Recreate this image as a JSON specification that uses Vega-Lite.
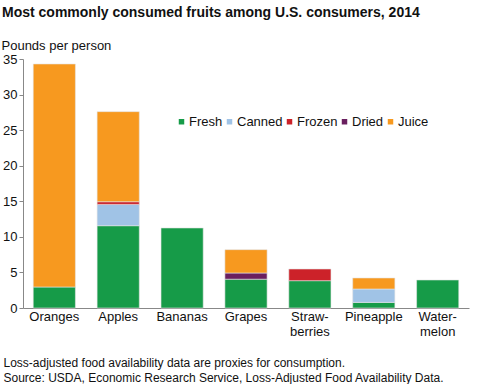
{
  "$schema": "https://vega.github.io/schema/vega-lite/v6.json",
  "width": 446,
  "height": 249,
  "autosize": {"type": "none"},
  "padding": {"left": 23, "top": 59, "right": 11, "bottom": 76},
  "background": "white",
  "config": {
    "font": "Liberation Sans",
    "view": {"stroke": null}
  },
  "title": {
    "text": "Most commonly consumed fruits among U.S. consumers, 2014",
    "anchor": "start",
    "frame": "group",
    "fontSize": 14,
    "fontWeight": "bold",
    "color": "#111111",
    "dx": -21,
    "offset": 19
  },
  "data": {
    "values": [
      {"fruit": "Oranges", "type": "Fresh", "pounds": 2.95},
      {"fruit": "Oranges", "type": "Juice", "pounds": 31.35},
      {"fruit": "Apples", "type": "Fresh", "pounds": 11.57},
      {"fruit": "Apples", "type": "Canned", "pounds": 2.99},
      {"fruit": "Apples", "type": "Frozen", "pounds": 0.38},
      {"fruit": "Apples", "type": "Juice", "pounds": 12.66},
      {"fruit": "Bananas", "type": "Fresh", "pounds": 11.25},
      {"fruit": "Grapes", "type": "Fresh", "pounds": 4.05},
      {"fruit": "Grapes", "type": "Dried", "pounds": 0.87},
      {"fruit": "Grapes", "type": "Juice", "pounds": 3.28},
      {"fruit": "Strawberries", "type": "Fresh", "pounds": 3.84},
      {"fruit": "Strawberries", "type": "Frozen", "pounds": 1.64},
      {"fruit": "Pineapple", "type": "Fresh", "pounds": 0.79},
      {"fruit": "Pineapple", "type": "Canned", "pounds": 1.88},
      {"fruit": "Pineapple", "type": "Juice", "pounds": 1.55},
      {"fruit": "Watermelon", "type": "Fresh", "pounds": 3.94}
    ]
  },
  "transform": [
    {"calculate": "indexof(['Fresh','Canned','Frozen','Dried','Juice'], datum.type)", "as": "stackOrder"}
  ],
  "mark": {"type": "bar", "stroke": "#e4e4e4", "strokeWidth": 0.6},
  "encoding": {
    "x": {
      "field": "fruit",
      "type": "nominal",
      "sort": ["Oranges", "Apples", "Bananas", "Grapes", "Strawberries", "Pineapple", "Watermelon"],
      "scale": {"paddingInner": 0.34, "paddingOuter": 0.16},
      "axis": {
        "labelAngle": 0,
        "labelFontSize": 13,
        "labelColor": "#111111",
        "labelPadding": 2,
        "ticks": false,
        "domainColor": "#888888",
        "labelExpr": "datum.value == 'Strawberries' ? ['Straw-', 'berries'] : datum.value == 'Watermelon' ? ['Water-', 'melon'] : datum.label",
        "title": [
          "Loss-adjusted food availability data are proxies for consumption.",
          "Source: USDA, Economic Research Service, Loss-Adjusted Food Availability Data."
        ],
        "titleFontSize": 12,
        "titleFontWeight": "normal",
        "titleColor": "#111111",
        "titleAnchor": "start",
        "titleAlign": "left",
        "titleBaseline": "top",
        "titleLineHeight": 15,
        "titleX": -20,
        "titleY": 49.5
      }
    },
    "y": {
      "field": "pounds",
      "type": "quantitative",
      "stack": "zero",
      "scale": {"domain": [0, 35], "nice": false},
      "axis": {
        "values": [0, 5, 10, 15, 20, 25, 30, 35],
        "grid": false,
        "labelFontSize": 13,
        "labelColor": "#111111",
        "tickSize": 4,
        "tickColor": "#888888",
        "domainColor": "#888888",
        "labelPadding": 2,
        "title": "Pounds per person",
        "titleAngle": 0,
        "titleFontSize": 13,
        "titleFontWeight": "normal",
        "titleColor": "#111111",
        "titleAlign": "left",
        "titleBaseline": "alphabetic",
        "titleX": -22,
        "titleY": -10
      }
    },
    "color": {
      "field": "type",
      "type": "nominal",
      "scale": {
        "domain": ["Fresh", "Canned", "Frozen", "Dried", "Juice"],
        "range": ["#169b48", "#a0c3e6", "#cc2229", "#6a1f5f", "#f7991f"]
      },
      "legend": {
        "title": null,
        "orient": "none",
        "direction": "horizontal",
        "legendX": 152,
        "legendY": 56,
        "symbolType": "square",
        "symbolSize": 30,
        "symbolStrokeWidth": 0,
        "labelFontSize": 13,
        "labelColor": "#111111",
        "labelOffset": 1,
        "columnPadding": -10
      }
    },
    "order": {"field": "stackOrder", "type": "quantitative"}
  }
}
